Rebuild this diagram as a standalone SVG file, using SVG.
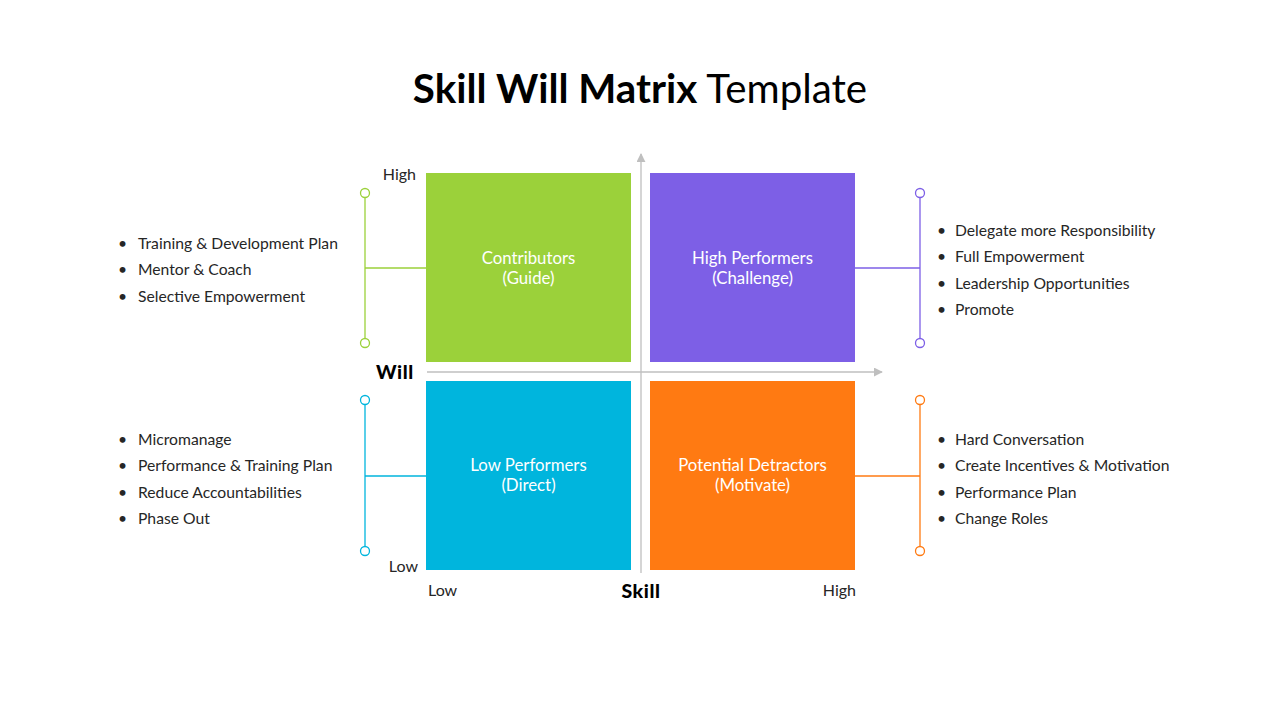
<svg xmlns="http://www.w3.org/2000/svg" width="1280" height="720" viewBox="0 0 1280 720">
<defs>
<marker id="arr" viewBox="0 0 10 10" refX="9" refY="5" markerWidth="9" markerHeight="9" markerUnits="userSpaceOnUse" orient="auto">
<path d="M0,0 L10,5 L0,10 z" fill="#BFBFBF"/>
</marker>
</defs>
<style>
text{font-family:"Lato","Open Sans","Liberation Sans",sans-serif}
.t{font-size:40.3px;fill:#000}
.b{font-size:15.7px;fill:#262626}
.ax{font-size:16px;fill:#262626}
.axb{font-size:19.5px;font-weight:900;fill:#000;letter-spacing:0.6px}
.q{font-size:16.8px;fill:#fff;text-anchor:middle}
.axis{stroke:#BFBFBF;stroke-width:1.3;fill:none}
.br{fill:none;stroke-width:1.3}
</style>
<rect width="1280" height="720" fill="#fff"/>
<text class="t" x="640" y="103" text-anchor="middle"><tspan font-weight="700">Skill Will Matrix</tspan> Template</text>

<g id="axes">
<line class="axis" x1="641" y1="573" x2="641" y2="154" marker-end="url(#arr)"/>
<line class="axis" x1="427" y1="372" x2="882" y2="372" marker-end="url(#arr)"/>
<text class="axb" x="376" y="379">Will</text>
<text class="axb" x="641" y="598" text-anchor="middle">Skill</text>
<text class="ax" x="416" y="180" text-anchor="end">High</text>
<text class="ax" x="418" y="572" text-anchor="end">Low</text>
<text class="ax" x="428" y="596">Low</text>
<text class="ax" x="856" y="596" text-anchor="end">High</text>
</g>

<g id="contributors">
<rect x="426" y="173" width="205" height="189" fill="#9BD13A"/>
<text class="q" x="528.5" y="264">Contributors</text>
<text class="q" x="528.5" y="284">(Guide)</text>
</g>
<g id="high-performers">
<rect x="650" y="173" width="205" height="189" fill="#7D5FE6"/>
<text class="q" x="752.5" y="264">High Performers</text>
<text class="q" x="752.5" y="284">(Challenge)</text>
</g>
<g id="low-performers">
<rect x="426" y="381" width="205" height="189" fill="#00B5DD"/>
<text class="q" x="528.5" y="471">Low Performers</text>
<text class="q" x="528.5" y="491">(Direct)</text>
</g>
<g id="potential-detractors">
<rect x="650" y="381" width="205" height="189" fill="#FF7A12"/>
<text class="q" x="752.5" y="471">Potential Detractors</text>
<text class="q" x="752.5" y="491">(Motivate)</text>
</g>

<g id="connectors">
<g stroke="#9BD13A" class="br">
<line x1="365" y1="197.5" x2="365" y2="338.5"/>
<line x1="365" y1="268" x2="426" y2="268"/>
<circle cx="365" cy="193" r="4.5" fill="#fff"/>
<circle cx="365" cy="343" r="4.5" fill="#fff"/>
</g>
<g stroke="#7D5FE6" class="br">
<line x1="920" y1="197.5" x2="920" y2="338.5"/>
<line x1="855" y1="268" x2="920" y2="268"/>
<circle cx="920" cy="193" r="4.5" fill="#fff"/>
<circle cx="920" cy="343" r="4.5" fill="#fff"/>
</g>
<g stroke="#00B5DD" class="br">
<line x1="365" y1="404.5" x2="365" y2="546.5"/>
<line x1="365" y1="476" x2="426" y2="476"/>
<circle cx="365" cy="400" r="4.5" fill="#fff"/>
<circle cx="365" cy="551" r="4.5" fill="#fff"/>
</g>
<g stroke="#FF7A12" class="br">
<line x1="920" y1="404.5" x2="920" y2="546.5"/>
<line x1="855" y1="476" x2="920" y2="476"/>
<circle cx="920" cy="400" r="4.5" fill="#fff"/>
<circle cx="920" cy="551" r="4.5" fill="#fff"/>
</g>
</g>

<g id="list-contributors">
<text class="b" x="118" y="249">•</text><text class="b" x="138" y="249">Training &amp; Development Plan</text>
<text class="b" x="118" y="275">•</text><text class="b" x="138" y="275">Mentor &amp; Coach</text>
<text class="b" x="118" y="302">•</text><text class="b" x="138" y="302">Selective Empowerment</text>
</g>
<g id="list-low-performers">
<text class="b" x="118" y="445">•</text><text class="b" x="138" y="445">Micromanage</text>
<text class="b" x="118" y="471">•</text><text class="b" x="138" y="471">Performance &amp; Training Plan</text>
<text class="b" x="118" y="498">•</text><text class="b" x="138" y="498">Reduce Accountabilities</text>
<text class="b" x="118" y="524">•</text><text class="b" x="138" y="524">Phase Out</text>
</g>
<g id="list-high-performers">
<text class="b" x="937" y="236">•</text><text class="b" x="955" y="236">Delegate more Responsibility</text>
<text class="b" x="937" y="262">•</text><text class="b" x="955" y="262">Full Empowerment</text>
<text class="b" x="937" y="289">•</text><text class="b" x="955" y="289">Leadership Opportunities</text>
<text class="b" x="937" y="315">•</text><text class="b" x="955" y="315">Promote</text>
</g>
<g id="list-potential-detractors">
<text class="b" x="937" y="445">•</text><text class="b" x="955" y="445">Hard Conversation</text>
<text class="b" x="937" y="471">•</text><text class="b" x="955" y="471">Create Incentives &amp; Motivation</text>
<text class="b" x="937" y="498">•</text><text class="b" x="955" y="498">Performance Plan</text>
<text class="b" x="937" y="524">•</text><text class="b" x="955" y="524">Change Roles</text>
</g>
</svg>
